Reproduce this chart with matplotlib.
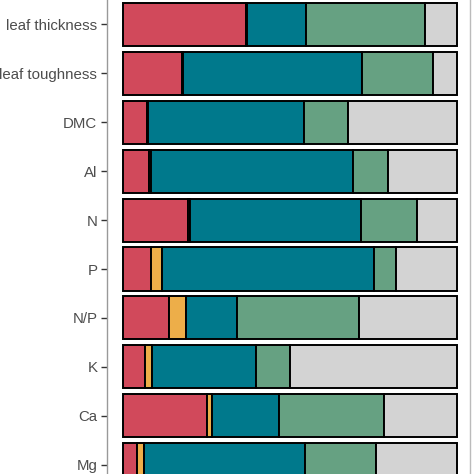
import numpy as np
import matplotlib
matplotlib.use("Agg")
import matplotlib.pyplot as plt

plt.rcParams['font.family'] = ['Liberation Sans', 'DejaVu Sans']

# proporcao de cada componente por variavel (de cima para baixo)
variaveis = ['leaf thickness', 'leaf toughness', 'DMC', 'Al', 'N',
             'P', 'N/P', 'K', 'Ca', 'Mg']
vermelho = [0.368, 0.176, 0.071, 0.079, 0.196, 0.083, 0.138, 0.067, 0.251, 0.043]
laranja = [0.005, 0.004, 0.004, 0.005, 0.004, 0.033, 0.050, 0.021, 0.016, 0.020]
azul = [0.175, 0.536, 0.466, 0.606, 0.512, 0.636, 0.153, 0.310, 0.200, 0.482]
verde = [0.358, 0.213, 0.132, 0.103, 0.169, 0.066, 0.366, 0.101, 0.316, 0.213]
cinza = [0.094, 0.071, 0.327, 0.207, 0.119, 0.182, 0.293, 0.501, 0.217, 0.242]

componentes = [vermelho, laranja, azul, verde, cinza]
cores = ['#D1495B', '#EDAE49', '#00798C', '#66A182', '#D3D3D3']

fig = plt.figure(figsize=(4.74, 4.74), dpi=100)
ax = fig.add_axes([107 / 474, 0, (470 - 107) / 474, 1])

y = np.arange(len(variaveis))
esquerda = np.zeros(len(variaveis))
for valores, cor in zip(componentes, cores):
    ax.barh(y, valores, left=esquerda, height=0.88, color=cor,
            edgecolor='black', linewidth=1.4)
    esquerda += np.array(valores)

ax.set_xlim(-0.048, 1.040)
ax.set_ylim(9.192, -0.501)
ax.set_yticks(y)
ax.set_yticklabels(variaveis, fontsize=10.8, color='#4D4D4D')
ax.set_xticks([])
ax.tick_params(axis='y', length=4, width=1, color='#333333', pad=3)

for lado in ['top', 'bottom']:
    ax.spines[lado].set_visible(False)
ax.spines['left'].set_color('#999999')
ax.spines['left'].set_linewidth(1.0)
ax.spines['right'].set_color('#BBBBBB')
ax.spines['right'].set_linewidth(1.0)

fig.savefig('out.png', dpi=100)
